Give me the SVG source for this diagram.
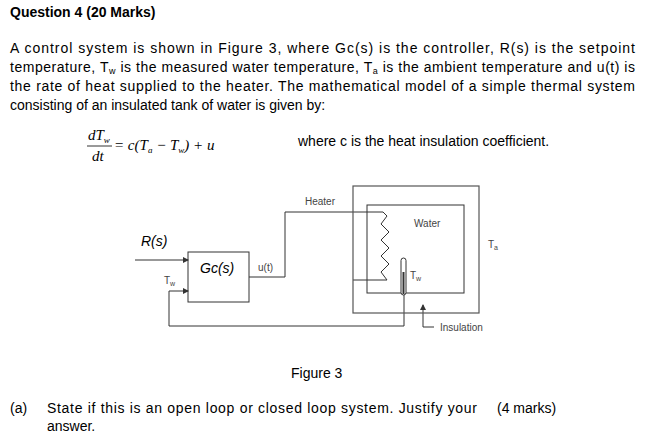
<svg xmlns="http://www.w3.org/2000/svg" width="647" height="444" viewBox="0 0 647 444">
<style>
.t{font-family:"Liberation Sans",Arial,sans-serif;font-size:14px;fill:#000}
.s{font-family:"Liberation Sans",Arial,sans-serif;font-size:10px;fill:#444}
.m{font-family:"Liberation Serif","Times New Roman",serif;font-size:15px;font-style:italic;fill:#000}
.w{fill:none;stroke:#333;stroke-width:1}
.b{fill:none;stroke:#555;stroke-width:1.2}
</style>
<defs><marker id="a" markerWidth="6" markerHeight="6" refX="5" refY="3" orient="auto"><path d="M0,0L6,3L0,6z" fill="#333"/></marker></defs>
<rect width="647" height="444" fill="#fff"/>
<text class="t" x="10" y="17" font-weight="bold">Question 4 (20 Marks)</text>
<text class="t" x="10" y="53" textLength="625" lengthAdjust="spacing">A control system is shown in Figure 3, where Gc(s) is the controller, R(s) is the setpoint</text>
<text class="t" x="10" y="72" textLength="625" lengthAdjust="spacing">temperature, T<tspan font-size="9" dy="2">w</tspan><tspan dy="-2"> is the measured water temperature, T</tspan><tspan font-size="9" dy="2">a</tspan><tspan dy="-2"> is the ambient temperature and u(t) is</tspan></text>
<text class="t" x="10" y="91" textLength="625" lengthAdjust="spacing">the rate of heat supplied to the heater. The mathematical model of a simple thermal system</text>
<text class="t" x="10" y="110">consisting of an insulated tank of water is given by:</text>
<g id="equation">
<text class="m" x="88" y="140">dT<tspan font-size="9" dy="3">w</tspan></text>
<line x1="87" y1="146" x2="112" y2="146" stroke="#000" stroke-width="0.8"/>
<text class="m" x="92" y="161">dt</text>
<text class="m" x="114" y="150">= c(T<tspan font-size="9" dy="3">a</tspan><tspan dy="-3"> − T</tspan><tspan font-size="9" dy="3">w</tspan><tspan dy="-3">) + u</tspan></text>
</g>
<text class="t" x="298" y="146">where c is the heat insulation coefficient.</text>
<g id="connectors">
<line class="w" x1="135" y1="260" x2="188" y2="260" marker-end="url(#a)"/>
<polyline class="w" points="404,295 404,326 169,326 169,291 188,291" marker-end="url(#a)"/>
<polyline class="w" points="249,277 285,277 285,212 383,212"/>
<polyline class="w" points="353,280 387,280"/>
<polyline class="w" points="423,327 423,305" marker-end="url(#a)"/>
<line class="w" x1="423" y1="327" x2="434" y2="327"/>
</g>
<g id="gc"><rect class="w" x="188" y="252" width="61" height="50"/><text class="t" x="200" y="273" font-size="13" font-style="italic">Gc(s)</text></g>
<g id="tank">
<rect class="b" x="353" y="186" width="126" height="127"/>
<rect class="w" x="367" y="205" width="97" height="88"/>
<polyline class="w" points="383,212 387,216 381,224 389,232 381,240 389,248 381,256 389,264 381,272 387,280"/>
<rect x="401" y="258" width="5" height="37" rx="2.5" fill="#fff" stroke="#333"/>
<line x1="403.5" y1="272" x2="403.5" y2="294" stroke="#333" stroke-width="2"/>
</g>
<text class="t" x="141" y="246" font-size="13" font-style="italic">R(s)</text>
<text class="s" x="164" y="284">T<tspan font-size="7" dy="2">w</tspan></text>
<text class="s" x="258" y="271">u(t)</text>
<text class="s" x="305" y="205">Heater</text>
<text class="s" x="414" y="227">Water</text>
<text class="s" x="488" y="248">T<tspan font-size="7" dy="2">a</tspan></text>
<text class="s" x="410" y="279">T<tspan font-size="7" dy="2">w</tspan></text>
<text class="s" x="440" y="331">Insulation</text>
<text class="t" x="291" y="378">Figure 3</text>
<text class="t" x="10" y="413">(a)</text>
<text class="t" x="47" y="413" textLength="430" lengthAdjust="spacing">State if this is an open loop or closed loop system. Justify your</text>
<text class="t" x="47" y="431">answer.</text>
<text class="t" x="497" y="413">(4 marks)</text>
</svg>
